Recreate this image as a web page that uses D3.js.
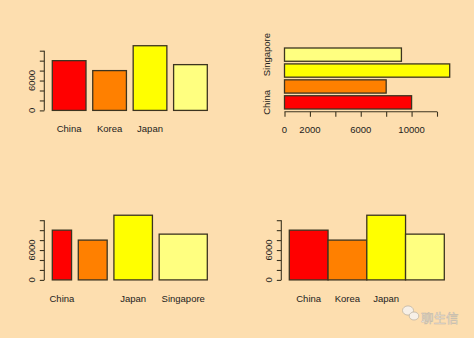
<!DOCTYPE html>
<html>
<head>
<meta charset="utf-8">
<script src="https://cdn.jsdelivr.net/npm/d3@7"></script>
<style>
  html, body { margin: 0; padding: 0; background: #FDDEAF; }
  svg { display: block; }
</style>
</head>
<body>
<script>
// ---- data ----
const countries = ["China", "Korea", "Japan", "Singapore"];
const values = [10000, 8000, 13000, 9200];
const barColors = ["#FF0000", "#FF8000", "#FFFF00", "#FFFF80"];
const panel3Widths = [1, 1.5, 2, 2.5];
const valueTicks = [0, 2000, 4000, 6000, 8000, 10000, 12000];
const watermark = "聊生信";

// ---- setup ----
const W = 474, H = 338;
const FONT = "'Liberation Sans', Arial, sans-serif";
const FS = 9.5;
const INK = "#3c3420";
const TXT = "#1c1c1c";

const svg = d3.select("body").append("svg")
  .attr("width", W).attr("height", H);
svg.append("rect").attr("width", W).attr("height", H).attr("fill", "#FDDEAF");

const ctx = document.createElement("canvas").getContext("2d");
ctx.font = `${FS}px ${FONT}`;
const tw = s => ctx.measureText(s).width;
const gapM = tw("m");

// R-like label skipping: keep a label only if it does not come within one "m" of the last kept
function keepLabels(items) { // items: {pos, text}, sorted by pos ascending
  const out = [];
  let lastEnd = -Infinity;
  items.forEach(it => {
    const half = tw(it.text) / 2;
    if (it.pos - half >= lastEnd + gapM) {
      out.push(it);
      lastEnd = it.pos + half;
    }
  });
  return out;
}

// bar layout in user units, like R barplot
function layout(widths, space) {
  const mean = d3.mean(widths);
  let x = 0;
  return widths.map(w => {
    x += space * mean;
    const b = { l: x, r: x + w, c: x + w / 2 };
    x += w;
    return b;
  });
}

const panels = [
  { x0: 0, y0: 0, widths: [1, 1, 1, 1], space: 0.2, horiz: false },
  { x0: 237, y0: 0, widths: [1, 1, 1, 1], space: 0.2, horiz: true },
  { x0: 0, y0: 169.5, widths: panel3Widths, space: 0.2, horiz: false },
  { x0: 237, y0: 169.5, widths: [1, 1, 1, 1], space: 0, horiz: false }
];

panels.forEach(p => {
  const g = svg.append("g").attr("transform", `translate(${p.x0},${p.y0})`);
  const bars = layout(p.widths, p.space);
  const uMin = bars[0].l, uMax = bars[bars.length - 1].r;
  const data = countries.map((c, i) => ({ name: c, v: values[i], col: barColors[i], b: bars[i] }));

  if (!p.horiz) {
    const x = d3.scaleLinear().domain([uMin, uMax]).range([52.3, 207.3]);
    const y = d3.scaleLinear().domain([0, 12000]).range([110.4, 50.7]);
    g.selectAll("rect.bar").data(data).join("rect")
      .attr("class", "bar")
      .attr("x", d => x(d.b.l)).attr("width", d => x(d.b.r) - x(d.b.l))
      .attr("y", d => y(d.v)).attr("height", d => y(0) - y(d.v))
      .attr("fill", d => d.col).attr("stroke", INK).attr("stroke-width", 1.3);

    // y axis
    const ax = 44.3;
    const axisG = g.append("g").attr("transform", `translate(${ax},0)`)
      .call(d3.axisLeft(y).tickValues(valueTicks).tickSize(4.5).tickFormat(""));
    axisG.select(".domain").attr("stroke", INK).attr("stroke-width", 1.1)
      .attr("d", `M0,${y(0)}V${y(12000)}`);
    axisG.selectAll(".tick line").attr("stroke", INK).attr("stroke-width", 1.1);
    // tick labels (sorted by screen position ascending from bottom)
    const tItems = valueTicks.map(t => ({ pos: -y(t), text: String(t), v: t }));
    keepLabels(tItems).forEach(it => {
      g.append("text")
        .attr("transform", `translate(35,${y(it.v)}) rotate(-90)`)
        .attr("text-anchor", "middle")
        .attr("font-family", FONT).attr("font-size", FS).attr("fill", TXT)
        .text(it.text);
    });
    // category labels
    const cItems = data.map(d => ({ pos: x(d.b.c), text: d.name }));
    keepLabels(cItems).forEach(it => {
      g.append("text").attr("x", it.pos).attr("y", 132.3)
        .attr("text-anchor", "middle")
        .attr("font-family", FONT).attr("font-size", FS).attr("fill", TXT)
        .text(it.text);
    });
  } else {
    const x = d3.scaleLinear().domain([0, 12000]).range([47.5, 200]);
    const y = d3.scaleLinear().domain([uMin, uMax]).range([109, 48]);
    g.selectAll("rect.bar").data(data).join("rect")
      .attr("class", "bar")
      .attr("x", x(0)).attr("width", d => x(d.v) - x(0))
      .attr("y", d => y(d.b.r)).attr("height", d => y(d.b.l) - y(d.b.r))
      .attr("fill", d => d.col).attr("stroke", INK).attr("stroke-width", 1.3);

    const ay = 111.7;
    const axisG = g.append("g").attr("transform", `translate(0,${ay})`)
      .call(d3.axisBottom(x).tickValues(valueTicks).tickSize(5).tickFormat(""));
    axisG.select(".domain").attr("stroke", INK).attr("stroke-width", 1.1)
      .attr("d", `M${x(0)},0H${x(12000)}`);
    axisG.selectAll(".tick line").attr("stroke", INK).attr("stroke-width", 1.1);
    const tItems = valueTicks.map(t => ({ pos: x(t), text: String(t) }));
    keepLabels(tItems).forEach(it => {
      g.append("text").attr("x", it.pos).attr("y", 132.7)
        .attr("text-anchor", "middle")
        .attr("font-family", FONT).attr("font-size", FS).attr("fill", TXT)
        .text(it.text);
    });
    const cItems = data.map(d => ({ pos: -y(d.b.c), text: d.name, yy: y(d.b.c) }));
    keepLabels(cItems).forEach(it => {
      g.append("text")
        .attr("transform", `translate(33,${it.yy}) rotate(-90)`)
        .attr("text-anchor", "middle")
        .attr("font-family", FONT).attr("font-size", FS).attr("fill", TXT)
        .text(it.text);
    });
  }
});

// watermark
const wm = svg.append("g").attr("opacity", 0.9);
wm.append("ellipse").attr("cx", 408).attr("cy", 310.5).attr("rx", 5.5).attr("ry", 4.6)
  .attr("fill", "#f7f3ee").attr("stroke", "#b9b1a4").attr("stroke-width", 0.8);
wm.append("ellipse").attr("cx", 414).attr("cy", 316).attr("rx", 4.8).attr("ry", 4)
  .attr("fill", "#f7f3ee").attr("stroke", "#b9b1a4").attr("stroke-width", 0.8);
wm.append("text").attr("x", 421).attr("y", 322.5)
  .attr("font-family", "'Noto Sans CJK SC', sans-serif").attr("font-size", 12.5)
  .attr("fill", "#f4efe8").attr("stroke", "#bdb5a8").attr("stroke-width", 0.5)
  .text(watermark);
</script>
</body>
</html>
